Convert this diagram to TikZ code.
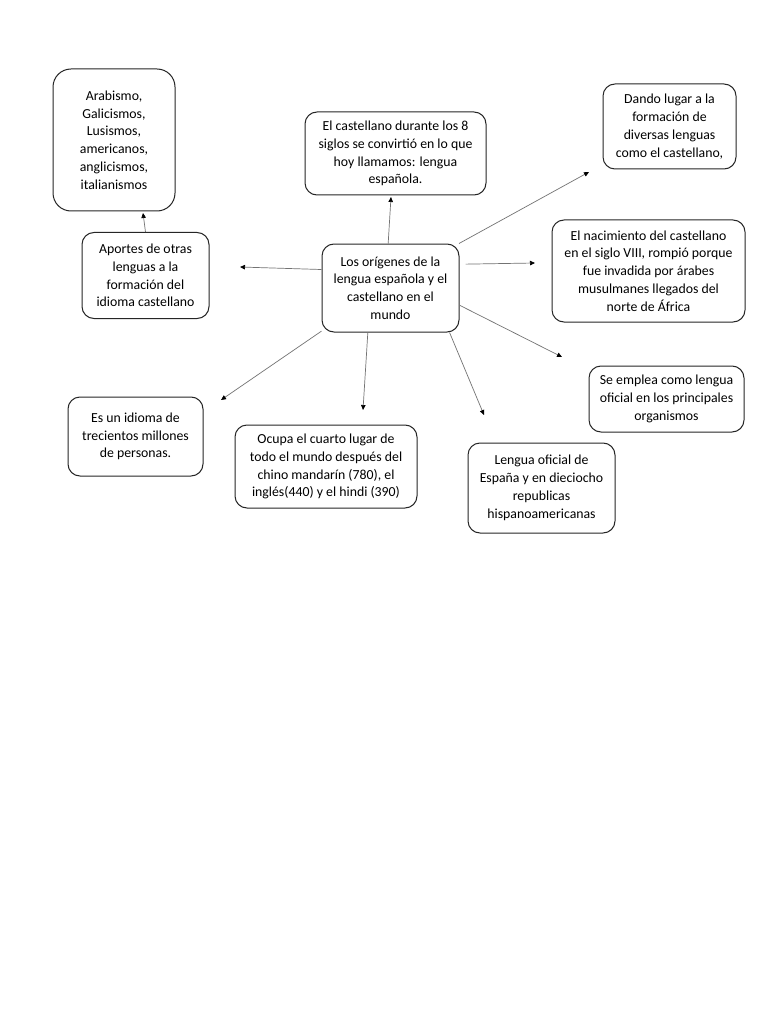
\documentclass[tikz,border=0pt]{standalone}
\usepackage{fontspec}
\setmainfont{Carlito}
\usetikzlibrary{arrows.meta}

\begin{document}
\begin{tikzpicture}[x=1pt,y=-1pt,
    box/.style={draw=black!85, line width=1pt, rounded corners=12pt, align=center,
      inner sep=0pt, font=\fontsize{13.8}{17.8}\selectfont},
    link/.style={draw=black!55, line width=0.7pt,
      -{Triangle[length=5pt,width=4.5pt,color=black]}}]
    \useasboundingbox[fill=white] (0,0) rectangle (768,1024);
    % Boxes
    \node[box, rounded corners=18pt, minimum width=122pt, minimum height=142pt] (arab) at (114,140)
        {Arabismo,\\Galicismos,\\Lusismos,\\americanos,\\anglicismos,\\italianismos};
    \node[box, minimum width=127pt, minimum height=86pt] (aport) at (145.5,275.5)
        {Aportes de otras\\lenguas a la\\formación del\\idioma castellano};
    \node[box, minimum width=181pt, minimum height=83pt] (siglos) at (395.5,153.5)
        {El castellano durante los 8\\siglos se convirtió en lo que\\hoy llamamos: lengua\\española.};
    \node[box, minimum width=137pt, minimum height=88pt] (hub) at (390.5,288)
        {Los orígenes de la\\lengua española y el\\castellano en el\\mundo};
    \node[box, minimum width=133pt, minimum height=85pt] (dando) at (669.5,126.5)
        {Dando lugar a la\\formación de\\diversas lenguas\\como el castellano,};
    \node[box, minimum width=193pt, minimum height=102pt] (nac) at (648.5,271)
        {El nacimiento del castellano\\en el siglo VIII, rompió porque\\fue invadida por árabes\\musulmanes llegados del\\norte de África};
    \node[box, minimum width=135pt, minimum height=79pt] (idioma) at (135.5,436.5)
        {Es un idioma de\\trecientos millones\\de personas.};
    \node[box, minimum width=182pt, minimum height=83pt] (ocupa) at (326,466.5)
        {Ocupa el cuarto lugar de\\todo el mundo después del\\chino mandarín (780), el\\inglés(440) y el hindi (390)};
    \node[box, minimum width=155pt, minimum height=66pt] (emplea) at (666.5,399)
        {Se emplea como lengua\\oficial en los principales\\organismos};
    \node[box, minimum width=147pt, minimum height=90pt] (lengua) at (541.5,488)
        {Lengua oficial de\\España y en dieciocho\\republicas\\hispanoamericanas};
    % Arrow tips
    \coordinate (tArab) at (143,213);
    \coordinate (tAport) at (240,267);
    \coordinate (tSiglos) at (391,197);
    \coordinate (tDando) at (589,172);
    \coordinate (tNac) at (535,263);
    \coordinate (tEmplea) at (562,357);
    \coordinate (tLengua) at (484,415);
    \coordinate (tOcupa) at (363,410);
    \coordinate (tIdioma) at (221,400);
    % Connectors
    \draw[link] (aport.north) -- (tArab);
    \draw[link] (hub.165) -- (tAport);
    \draw[link] (hub.93) -- (tSiglos);
    \draw[link] (hub.33) -- (tDando);
    \draw[link, shorten <=6pt] (hub.19) -- (tNac);
    \draw[link] (hub.-14) -- (tEmplea);
    \draw[link] (hub.-37) -- (tLengua);
    \draw[link] (hub.-117) -- (tOcupa);
    \draw[link] (hub.-148) -- (tIdioma);
\end{tikzpicture}
\end{document}
